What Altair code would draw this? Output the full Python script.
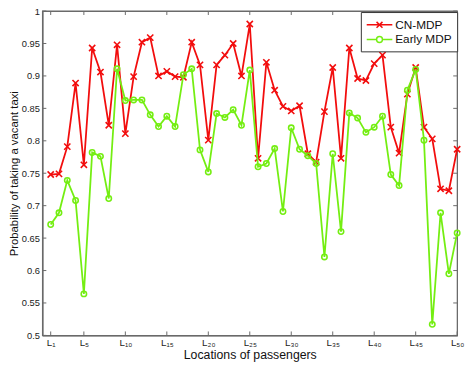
import altair as alt
import pandas as pd

# ---------------- data ----------------
locations = list(range(1, 51))
cn_mdp = [0.748, 0.749, 0.791, 0.889, 0.763, 0.943, 0.906, 0.824, 0.948, 0.811,
          0.899, 0.952, 0.959, 0.900, 0.907, 0.899, 0.898, 0.952, 0.917, 0.801,
          0.917, 0.932, 0.950, 0.900, 0.980, 0.773, 0.921, 0.878, 0.853, 0.846,
          0.854, 0.780, 0.767, 0.845, 0.913, 0.773, 0.943, 0.896, 0.893, 0.919,
          0.932, 0.821, 0.781, 0.872, 0.913, 0.821, 0.803, 0.726, 0.723, 0.787]
early_mdp = [0.671, 0.689, 0.739, 0.708, 0.564, 0.782, 0.776, 0.711, 0.911, 0.862,
             0.863, 0.863, 0.840, 0.822, 0.838, 0.822, 0.902, 0.911, 0.786, 0.752,
             0.842, 0.836, 0.848, 0.824, 0.909, 0.760, 0.765, 0.788, 0.691, 0.820,
             0.787, 0.777, 0.765, 0.621, 0.780, 0.660, 0.843, 0.835, 0.813, 0.821,
             0.838, 0.748, 0.731, 0.878, 0.910, 0.801, 0.517, 0.689, 0.595, 0.658]
series_names = ["CN-MDP", "Early MDP"]
series_colors = ["#f20d0d", "#74ee12"]

x_tick_values = [1, 5, 10, 15, 20, 25, 30, 35, 40, 45, 50]
x_tick_labels = ["L₁", "L₅", "L₁₀", "L₁₅", "L₂₀", "L₂₅", "L₃₀", "L₃₅", "L₄₀", "L₄₅", "L₅₀"]
y_tick_values = [0.5, 0.55, 0.6, 0.65, 0.7, 0.75, 0.8, 0.85, 0.9, 0.95, 1.0]
y_tick_labels = ["0.5", "0.55", "0.6", "0.65", "0.7", "0.75", "0.8", "0.85", "0.9", "0.95", "1"]

x_title = "Locations of passengers"
y_title = "Probability of taking a vacant taxi"

# ---------------- tables ----------------
df = pd.DataFrame({
    "loc": locations * 2,
    "prob": cn_mdp + early_mdp,
    "series": [series_names[0]] * len(locations) + [series_names[1]] * len(locations),
})
df_cn = pd.DataFrame({"loc": locations, "prob": cn_mdp})
df_early = pd.DataFrame({"loc": locations, "prob": early_mdp})
xt = pd.DataFrame({"loc": x_tick_values})
yt = pd.DataFrame({"prob": y_tick_values})

W, H = 422, 330
FONT = "Liberation Sans"
AXIS_COLOR = "#6a6a6a"
TICK = 4

xscale = alt.Scale(domain=[0, 50], nice=False, zero=False)
yscale = alt.Scale(domain=[0.5, 1.0], nice=False, zero=False)

x_label_expr = ("[" + ",".join(f"'{l}'" for l in x_tick_labels) + "][indexof(["
                + ",".join(str(v) for v in x_tick_values) + "], datum.value)]")
y_label_expr = ("[" + ",".join(f"'{l}'" for l in y_tick_labels) + "][indexof(["
                + ",".join(str(v) for v in y_tick_values) + "], datum.value)]")

x_axis = alt.Axis(values=x_tick_values, labelExpr=x_label_expr, ticks=False, grid=False,
                  domainColor=AXIS_COLOR, domainWidth=1.3, labelFont=FONT, labelFontSize=10,
                  labelColor="#222222", labelPadding=2, labelFlush=False,
                  title=x_title, titleFont=FONT, titleFontSize=12.5, titleFontWeight="normal",
                  titleColor="#111111", titlePadding=2)
y_axis = alt.Axis(values=y_tick_values, labelExpr=y_label_expr, ticks=False, grid=False,
                  domainColor=AXIS_COLOR, domainWidth=1.3, labelFont=FONT, labelFontSize=9.5,
                  labelColor="#222222", labelPadding=3, labelFlush=False,
                  title=y_title, titleFont=FONT, titleFontSize=11.5, titleFontWeight="normal",
                  titleColor="#111111", titlePadding=2)

X = alt.X("loc:Q", scale=xscale, axis=x_axis, title=x_title)
Y = alt.Y("prob:Q", scale=yscale, axis=y_axis, title=y_title)

lines_cn = alt.Chart(df_cn).mark_line(strokeWidth=1.8, color=series_colors[0]).encode(
    x=X, y=Y, order=alt.Order("loc:Q"))
x_path = "M-1,-1L1,1M-1,1L1,-1"
pts_cn = alt.Chart(df_cn).mark_point(shape=x_path, size=40, strokeWidth=1.6, filled=False,
                                     opacity=1, color=series_colors[0]).encode(x=X, y=Y)
lines_early = alt.Chart(df_early).mark_line(strokeWidth=1.8, color=series_colors[1]).encode(
    x=X, y=Y, order=alt.Order("loc:Q"))
pts_early = alt.Chart(df_early).mark_point(shape="circle", size=30, strokeWidth=1.6, filled=False,
                                           opacity=1, color=series_colors[1]).encode(x=X, y=Y)

# legend (line + marker symbols); nominal symbol box 14px, drawn line 26px wide
leg_x = "M-1.86,0L1.86,0M-0.43,-0.43L0.43,0.43M-0.43,0.43L0.43,-0.43"
leg_o = ("M-1.86,0L-0.43,0M0.43,0L1.86,0M-0.43,0A0.43,0.43 0 1,1 0.43,0"
         "A0.43,0.43 0 1,1 -0.43,0")
legend_props = dict(title=None, orient="none", legendX=324, legendY=1,
                    fillColor="white", strokeColor="#333333", padding=5,
                    symbolSize=196, symbolStrokeWidth=1.5, symbolOpacity=1,
                    symbolOffset=6, labelFont=FONT, labelFontSize=12,
                    labelColor="#111111", labelOffset=8, rowPadding=0)
legend_layer = alt.Chart(df).mark_point(filled=False, opacity=0, strokeWidth=1.5).encode(
    x=X, y=Y,
    color=alt.Color("series:N", scale=alt.Scale(domain=series_names, range=series_colors),
                    legend=alt.Legend(**legend_props)),
    shape=alt.Shape("series:N", scale=alt.Scale(domain=series_names, range=[leg_x, leg_o]),
                    legend=alt.Legend(**legend_props)),
)

# inward tick marks on all four sides
tick_style = dict(color=AXIS_COLOR, strokeWidth=1)
bottom_ticks = alt.Chart(xt).mark_rule(**tick_style).encode(
    x=X, y=alt.value(H), y2=alt.value(H - TICK))
top_ticks = alt.Chart(xt).mark_rule(**tick_style).encode(
    x=X, y=alt.value(0), y2=alt.value(TICK))
left_ticks = alt.Chart(yt).mark_rule(**tick_style).encode(
    y=Y, x=alt.value(0), x2=alt.value(TICK))
right_ticks = alt.Chart(yt).mark_rule(**tick_style).encode(
    y=Y, x=alt.value(W), x2=alt.value(W - TICK))

chart = alt.layer(
    bottom_ticks, top_ticks, left_ticks, right_ticks,
    lines_cn, pts_cn, lines_early, pts_early, legend_layer,
).properties(
    width=W, height=H,
    autosize=alt.AutoSizeParams(type="none"),
    padding={"left": 35, "top": 0, "right": 9, "bottom": 27},
    background="white",
).configure_view(
    stroke=AXIS_COLOR, strokeWidth=1.3,
)

chart.save("out.html", embed_options={"renderer": "svg", "actions": False})
